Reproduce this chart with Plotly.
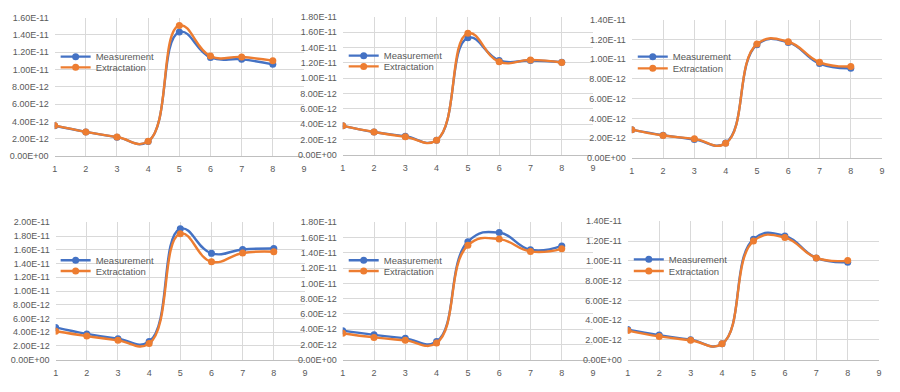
import plotly.graph_objects as go

W, H = 900, 392

# ---------------- data ----------------
x_vals = [1, 2, 3, 4, 5, 6, 7, 8]
x_tick_labels = ["1", "2", "3", "4", "5", "6", "7", "8", "9"]

meas_1 = [3.50e-12, 2.79e-12, 2.18e-12, 1.69e-12, 1.434e-11, 1.140e-11, 1.118e-11, 1.060e-11]
extr_1 = [3.54e-12, 2.79e-12, 2.20e-12, 1.70e-12, 1.510e-11, 1.156e-11, 1.145e-11, 1.103e-11]

meas_2 = [3.80e-12, 3.00e-12, 2.45e-12, 1.94e-12, 1.525e-11, 1.230e-11, 1.230e-11, 1.208e-11]
extr_2 = [3.80e-12, 3.00e-12, 2.37e-12, 1.94e-12, 1.584e-11, 1.213e-11, 1.238e-11, 1.204e-11]

meas_3 = [2.87e-12, 2.31e-12, 1.88e-12, 1.52e-12, 1.146e-11, 1.169e-11, 9.55e-12, 9.09e-12]
extr_3 = [2.87e-12, 2.27e-12, 1.94e-12, 1.48e-12, 1.153e-11, 1.176e-11, 9.68e-12, 9.26e-12]

meas_4 = [4.70e-12, 3.76e-12, 3.06e-12, 2.64e-12, 1.906e-11, 1.548e-11, 1.605e-11, 1.619e-11]
extr_4 = [4.14e-12, 3.44e-12, 2.82e-12, 2.35e-12, 1.835e-11, 1.426e-11, 1.553e-11, 1.572e-11]

meas_5 = [3.81e-12, 3.26e-12, 2.80e-12, 2.37e-12, 1.546e-11, 1.665e-11, 1.440e-11, 1.491e-11]
extr_5 = [3.47e-12, 2.92e-12, 2.54e-12, 2.20e-12, 1.499e-11, 1.580e-11, 1.419e-11, 1.453e-11]

meas_6 = [3.05e-12, 2.49e-12, 2.03e-12, 1.61e-12, 1.220e-11, 1.252e-11, 1.030e-11, 9.87e-12]
extr_6 = [2.95e-12, 2.36e-12, 1.97e-12, 1.61e-12, 1.200e-11, 1.236e-11, 1.030e-11, 1.003e-11]

yticks_1 = ["0.00E+00", "2.00E-12", "4.00E-12", "6.00E-12", "8.00E-12", "1.00E-11", "1.20E-11", "1.40E-11", "1.60E-11"]
yticks_2 = ["0.00E+00", "2.00E-12", "4.00E-12", "6.00E-12", "8.00E-12", "1.00E-11", "1.20E-11", "1.40E-11", "1.60E-11", "1.80E-11"]
yticks_3 = ["0.00E+00", "2.00E-12", "4.00E-12", "6.00E-12", "8.00E-12", "1.00E-11", "1.20E-11", "1.40E-11"]
yticks_4 = ["0.00E+00", "2.00E-12", "4.00E-12", "6.00E-12", "8.00E-12", "1.00E-11", "1.20E-11", "1.40E-11", "1.60E-11", "1.80E-11", "2.00E-11"]
yticks_5 = yticks_2
yticks_6 = yticks_3
y_step = 2e-12

series_names = ["Measurement", "Extractation"]
colors = ["#4472C4", "#ED7D31"]

panels = [
    (meas_1, extr_1, yticks_1),
    (meas_2, extr_2, yticks_2),
    (meas_3, extr_3, yticks_3),
    (meas_4, extr_4, yticks_4),
    (meas_5, extr_5, yticks_5),
    (meas_6, extr_6, yticks_6),
]

# ---------------- layout (pixel boxes) ----------------
# (x0, x1, ytop, ybottom) of each plot area
boxes = [
    (52, 303, 13, 155),
    (342, 594, 12, 154),
    (633, 885, 15, 157),
    (53, 304, 223, 364),
    (342, 594, 223, 364),
    (629, 882, 222, 364),
]
# legend left x, y of first entry, y of second entry
legend_pos = [
    (53, 53, 64), (343, 52, 63), (634, 53, 65),
    (53, 262, 273), (343, 262, 273), (630, 261, 273),
]

GRID = "#D9D9D9"
TXT = "#595959"
FONT = "Liberation Sans"

fig = go.Figure()
layout = dict(
    width=W, height=H,
    margin=dict(l=0, r=0, t=0, b=0),
    paper_bgcolor="white", plot_bgcolor="white",
    font=dict(family=FONT, size=9, color=TXT),
    showlegend=True,
)

legend_counter = 0
for i, ((meas, extr, yt), box, lp) in enumerate(zip(panels, boxes, legend_pos), start=1):
    sfx = "" if i == 1 else str(i)
    for k, (name, ys, col) in enumerate(zip(series_names, [meas, extr], colors)):
        legend_counter += 1
        lg = "legend" if legend_counter == 1 else f"legend{legend_counter}"
        fig.add_trace(go.Scatter(
            x=x_vals, y=ys, name=name, mode="lines+markers",
            line=dict(color=col, width=2.4, shape="spline", smoothing=1.3),
            marker=dict(color=col, size=7),
            xaxis=f"x{sfx}", yaxis=f"y{sfx}", legend=lg, showlegend=True,
        ))
        layout[lg] = dict(
            x=lp[0] / W, y=1 - lp[1 + k] / H, xanchor="left", yanchor="middle",
            bgcolor="rgba(0,0,0,0)", borderwidth=0,
            font=dict(size=9.5, color=TXT, family=FONT),
            itemwidth=30, visible=True,
        )
    x0, x1, yt0, yb0 = box
    tickvals = [k * y_step for k in range(len(yt))]
    layout[f"xaxis{sfx}"] = dict(
        domain=[x0 / W, x1 / W], anchor=f"y{sfx}",
        range=[1, 9], tickmode="array", tickvals=list(range(1, 10)),
        ticktext=x_tick_labels, showgrid=True, gridcolor=GRID, gridwidth=1,
        showline=True, linecolor="#BFBFBF", linewidth=1, zeroline=False,
        ticks="", ticklabelstandoff=4, tickfont=dict(size=9, color=TXT, family=FONT),
    )
    layout[f"yaxis{sfx}"] = dict(
        domain=[1 - yb0 / H, 1 - yt0 / H], anchor=f"x{sfx}",
        range=[0, tickvals[-1]], tickmode="array", tickvals=tickvals,
        ticktext=yt, showgrid=True, gridcolor=GRID, gridwidth=1,
        showline=False, zeroline=False, ticks="", ticklabelstandoff=5,
        tickfont=dict(size=9, color=TXT, family=FONT),
    )

fig.update_layout(**layout)
fig.write_html(
    "out.html",
    config={"displayModeBar": False},
    post_script="document.body.style.margin='0px';document.body.style.overflow='hidden';",
)
